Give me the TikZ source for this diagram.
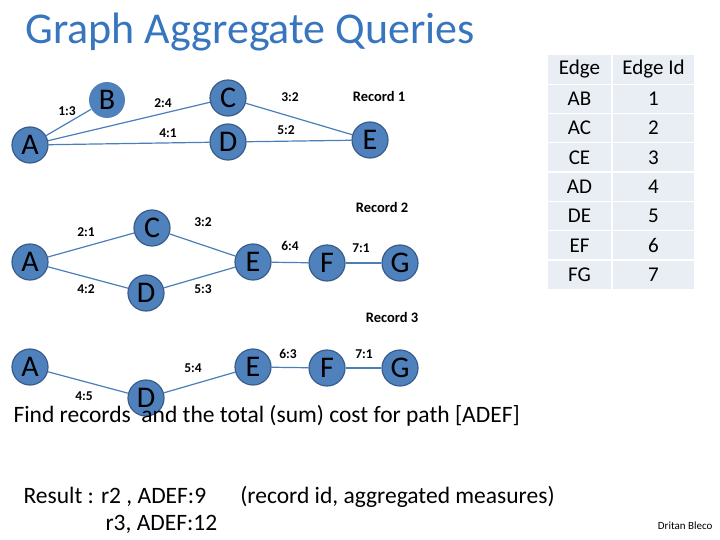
\documentclass[tikz,border=0pt]{standalone}
\usepackage{fontspec}
\setmainfont{Carlito}
\definecolor{nfill}{RGB}{79,129,189}
\definecolor{nline}{RGB}{56,93,138}
\definecolor{edgec}{RGB}{74,126,187}
\definecolor{titlec}{RGB}{55,118,190}
\definecolor{cellc}{RGB}{233,237,244}
\begin{document}
\begin{tikzpicture}[x=1pt,y=-1pt,
  vtx/.style={circle,fill=nfill,draw=nline,line width=1.2pt,minimum size=36pt,inner sep=0pt,font=\fontsize{30}{30}\selectfont},
  vtxb/.style={vtx,draw=none},
  elab/.style={font=\bfseries\fontsize{13.5}{14}\selectfont},
  rlab/.style={font=\bfseries\fontsize{14.5}{15}\selectfont},
  edge/.style={draw=edgec,line width=1.2pt},
  cell/.style={fill=cellc,draw=white,line width=1.2pt,minimum height=29.3pt,inner sep=0pt,font=\fontsize{21}{22}\selectfont},
  btxt/.style={font=\fontsize{23.5}{26}\selectfont,anchor=west}]
\useasboundingbox (0,0) rectangle (720,540);
\node[anchor=west,text=titlec,font=\fontsize{44}{44}\selectfont] (title) at (22,32) {Graph Aggregate Queries};
% Record 1
\node[vtx] (a1) at (30,145) {A};
\node[vtxb] (b1) at (107,100) {B};
\node[vtx] (c1) at (228,98) {C};
\node[vtx] (d1) at (228,142) {D};
\node[vtx] (e1) at (370,140) {E};
\draw[edge] (a1) -- (b1);
\draw[edge] (a1) -- (c1);
\draw[edge] (a1) -- (d1);
\draw[edge] (c1) -- (e1);
\draw[edge] (d1) -- (e1);
\node[elab] (l13) at (67,111) {1:3};
\node[elab] (l24) at (163,103) {2:4};
\node[elab] (l41) at (168,133) {4:1};
\node[elab] (l32a) at (290,97) {3:2};
\node[elab] (l52) at (286,130) {5:2};
\node[rlab] (r1) at (379,96) {Record 1};
% Record 2
\node[vtx] (a2) at (30,262) {A};
\node[vtx] (c2) at (152,228) {C};
\node[vtx] (d2) at (146,293) {D};
\node[vtx] (e2) at (253,262) {E};
\node[vtx] (f2) at (327,263) {F};
\node[vtx] (g2) at (400,263) {G};
\draw[edge] (a2) -- (c2);
\draw[edge] (a2) -- (d2);
\draw[edge] (c2) -- (e2);
\draw[edge] (d2) -- (e2);
\draw[edge] (e2) -- (f2);
\draw[edge] (f2) -- (g2);
\node[elab] (l21) at (86,232) {2:1};
\node[elab] (l42) at (86,289) {4:2};
\node[elab] (l32b) at (203,222) {3:2};
\node[elab] (l53) at (203,289) {5:3};
\node[elab] (l64) at (290,246) {6:4};
\node[elab] (l71a) at (361,248) {7:1};
\node[rlab] (r2) at (382,207) {Record 2};
% Record 3
\node[vtx] (a3) at (30,367) {A};
\node[vtx] (d3) at (146,398) {D};
\node[vtx] (e3) at (253,367) {E};
\node[vtx] (f3) at (327,368) {F};
\node[vtx] (g3) at (400,368) {G};
\draw[edge] (a3) -- (d3);
\draw[edge] (d3) -- (e3);
\draw[edge] (e3) -- (f3);
\draw[edge] (f3) -- (g3);
\node[elab] (l45) at (84,396) {4:5};
\node[elab] (l54) at (193,368) {5:4};
\node[elab] (l63) at (288,354) {6:3};
\node[elab] (l71b) at (364,354) {7:1};
\node[rlab] (r3) at (392,317) {Record 3};
% table
\foreach \i/\e/\n in {0/Edge/Edge Id,1/AB/1,2/AC/2,3/CE/3,4/AD/4,5/DE/5,6/EF/6,7/FG/7}{
  \node[cell,minimum width=65pt] (ta\i) at (579.5,{69.5+29.3*\i}) {\e};
  \node[cell,minimum width=82pt] (tb\i) at (653.5,{69.5+29.3*\i}) {\n};
}
% bottom text
\node[btxt] (find) at (10,416) {Find records \ and the total (sum) cost for path [ADEF]};
\node[btxt] (res1) at (20,497) {Result : r2 , ADEF:9 \quad\ (record id, aggregated measures)};
\node[btxt] (res2) at (102,524) {r3, ADEF:12};
\node[anchor=east,font=\fontsize{11}{11}\selectfont] (auth) at (716,526) {Dritan Bleco};
\end{tikzpicture}
\end{document}
